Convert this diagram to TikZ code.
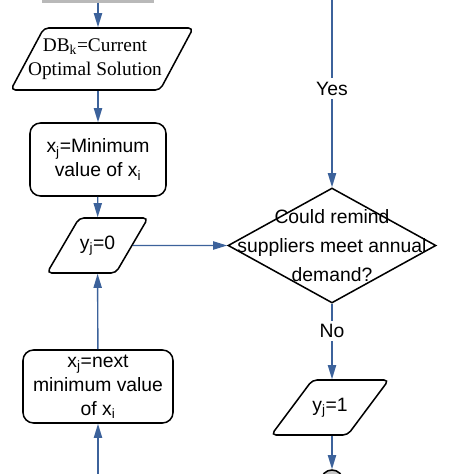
\documentclass[tikz,border=0pt]{standalone}
\usepackage{fontspec}
\setmainfont{Liberation Sans}
\newfontfamily\serifdb{Liberation Serif}
\usetikzlibrary{shapes.geometric, arrows.meta}
\definecolor{flowblue}{RGB}{60,98,155}
\tikzstyle{boxStep} = [rectangle, rounded corners=9pt, minimum height=2.19cm, align=center, draw=black, line width=1.3pt, fill=white]
\tikzstyle{boxData} = [trapezium, trapezium stretches body=true, rounded corners=4pt, minimum height=1.65cm, align=center, draw=black, line width=1.3pt, fill=white, inner sep=0pt]
\tikzstyle{boxDecision} = [diamond, minimum width=6.24cm, minimum height=3.45cm, inner sep=0pt, draw=black, line width=1.3pt, fill=white]
\tikzstyle{arrow} = [flowblue, line width=1.2pt, -{Triangle[length=12pt, width=7pt]}]
\tikzstyle{answer} = [fill=white, text=black, inner sep=3pt]

\begin{document}
\begin{tikzpicture}[x=0.03cm, y=-0.03cm, every node/.style={font=\fontsize{16.5}{20.5}\selectfont}]
\useasboundingbox (0,0) rectangle (474,474);
\clip (0,0) rectangle (474,474);

% left column
\node (prevstep) [rectangle, draw=gray!55, line width=2pt, minimum width=3.3cm, minimum height=1.4cm] at (98,-22) {};
\node (dbk) [boxData, trapezium left angle=51, trapezium right angle=129, inner xsep=-13.5pt, minimum width=5.43cm, minimum height=1.86cm] at (102,59) {\serifdb DB\textsubscript{k}=Current\hspace*{12pt}\\\serifdb Optimal Solution\hspace*{12pt}};
\node (minval) [boxStep, minimum width=4.08cm] at (98,159.5) {x\textsubscript{j}=Minimum\\value of x\textsubscript{i}};
\node (yzero) [boxData, trapezium left angle=31, trapezium right angle=149, minimum width=3.03cm] at (97.5,245.5) {y\textsubscript{j}=0};
\node (nextval) [boxStep, minimum width=4.5cm] at (98,386.5) {x\textsubscript{j}=next\\minimum value\\of x\textsubscript{i}};
\coordinate (loopin) at (98,490);

% right column
\coordinate (yesin) at (332,-10);
\node (check) [boxDecision, label={[align=center, font=\fontsize{16.5}{24.5}\selectfont]center:Could remind\\suppliers meet annual\\demand?}] at (332,245.5) {};
\node (yone) [boxData, trapezium left angle=25, trapezium right angle=155, minimum width=2.88cm] at (330,407.5) {y\textsubscript{j}=1};
\node (endmark) [circle, draw=black, line width=1.3pt, fill=gray!45, minimum size=0.66cm] at (332,481) {};

\draw [arrow] (prevstep.south -| minval) -- (dbk.north -| minval);
\draw [arrow] (dbk.south -| minval) -- (minval);
\draw [arrow] (minval) -- (yzero);
\draw [arrow] (nextval) -- (yzero);
\draw [arrow] (loopin) -- (nextval);
\draw [arrow] (yzero.east) -- (check.west);
\draw [arrow] (yesin) -- node[answer, pos=0.5] {Yes} (check.north);
\draw [arrow] (check.south) -- node[answer, pos=0.36] {No} (yone.north -| check.south);
\draw [arrow] (yone.south -| endmark.north) -- (endmark.north);

\end{tikzpicture}
\end{document}
